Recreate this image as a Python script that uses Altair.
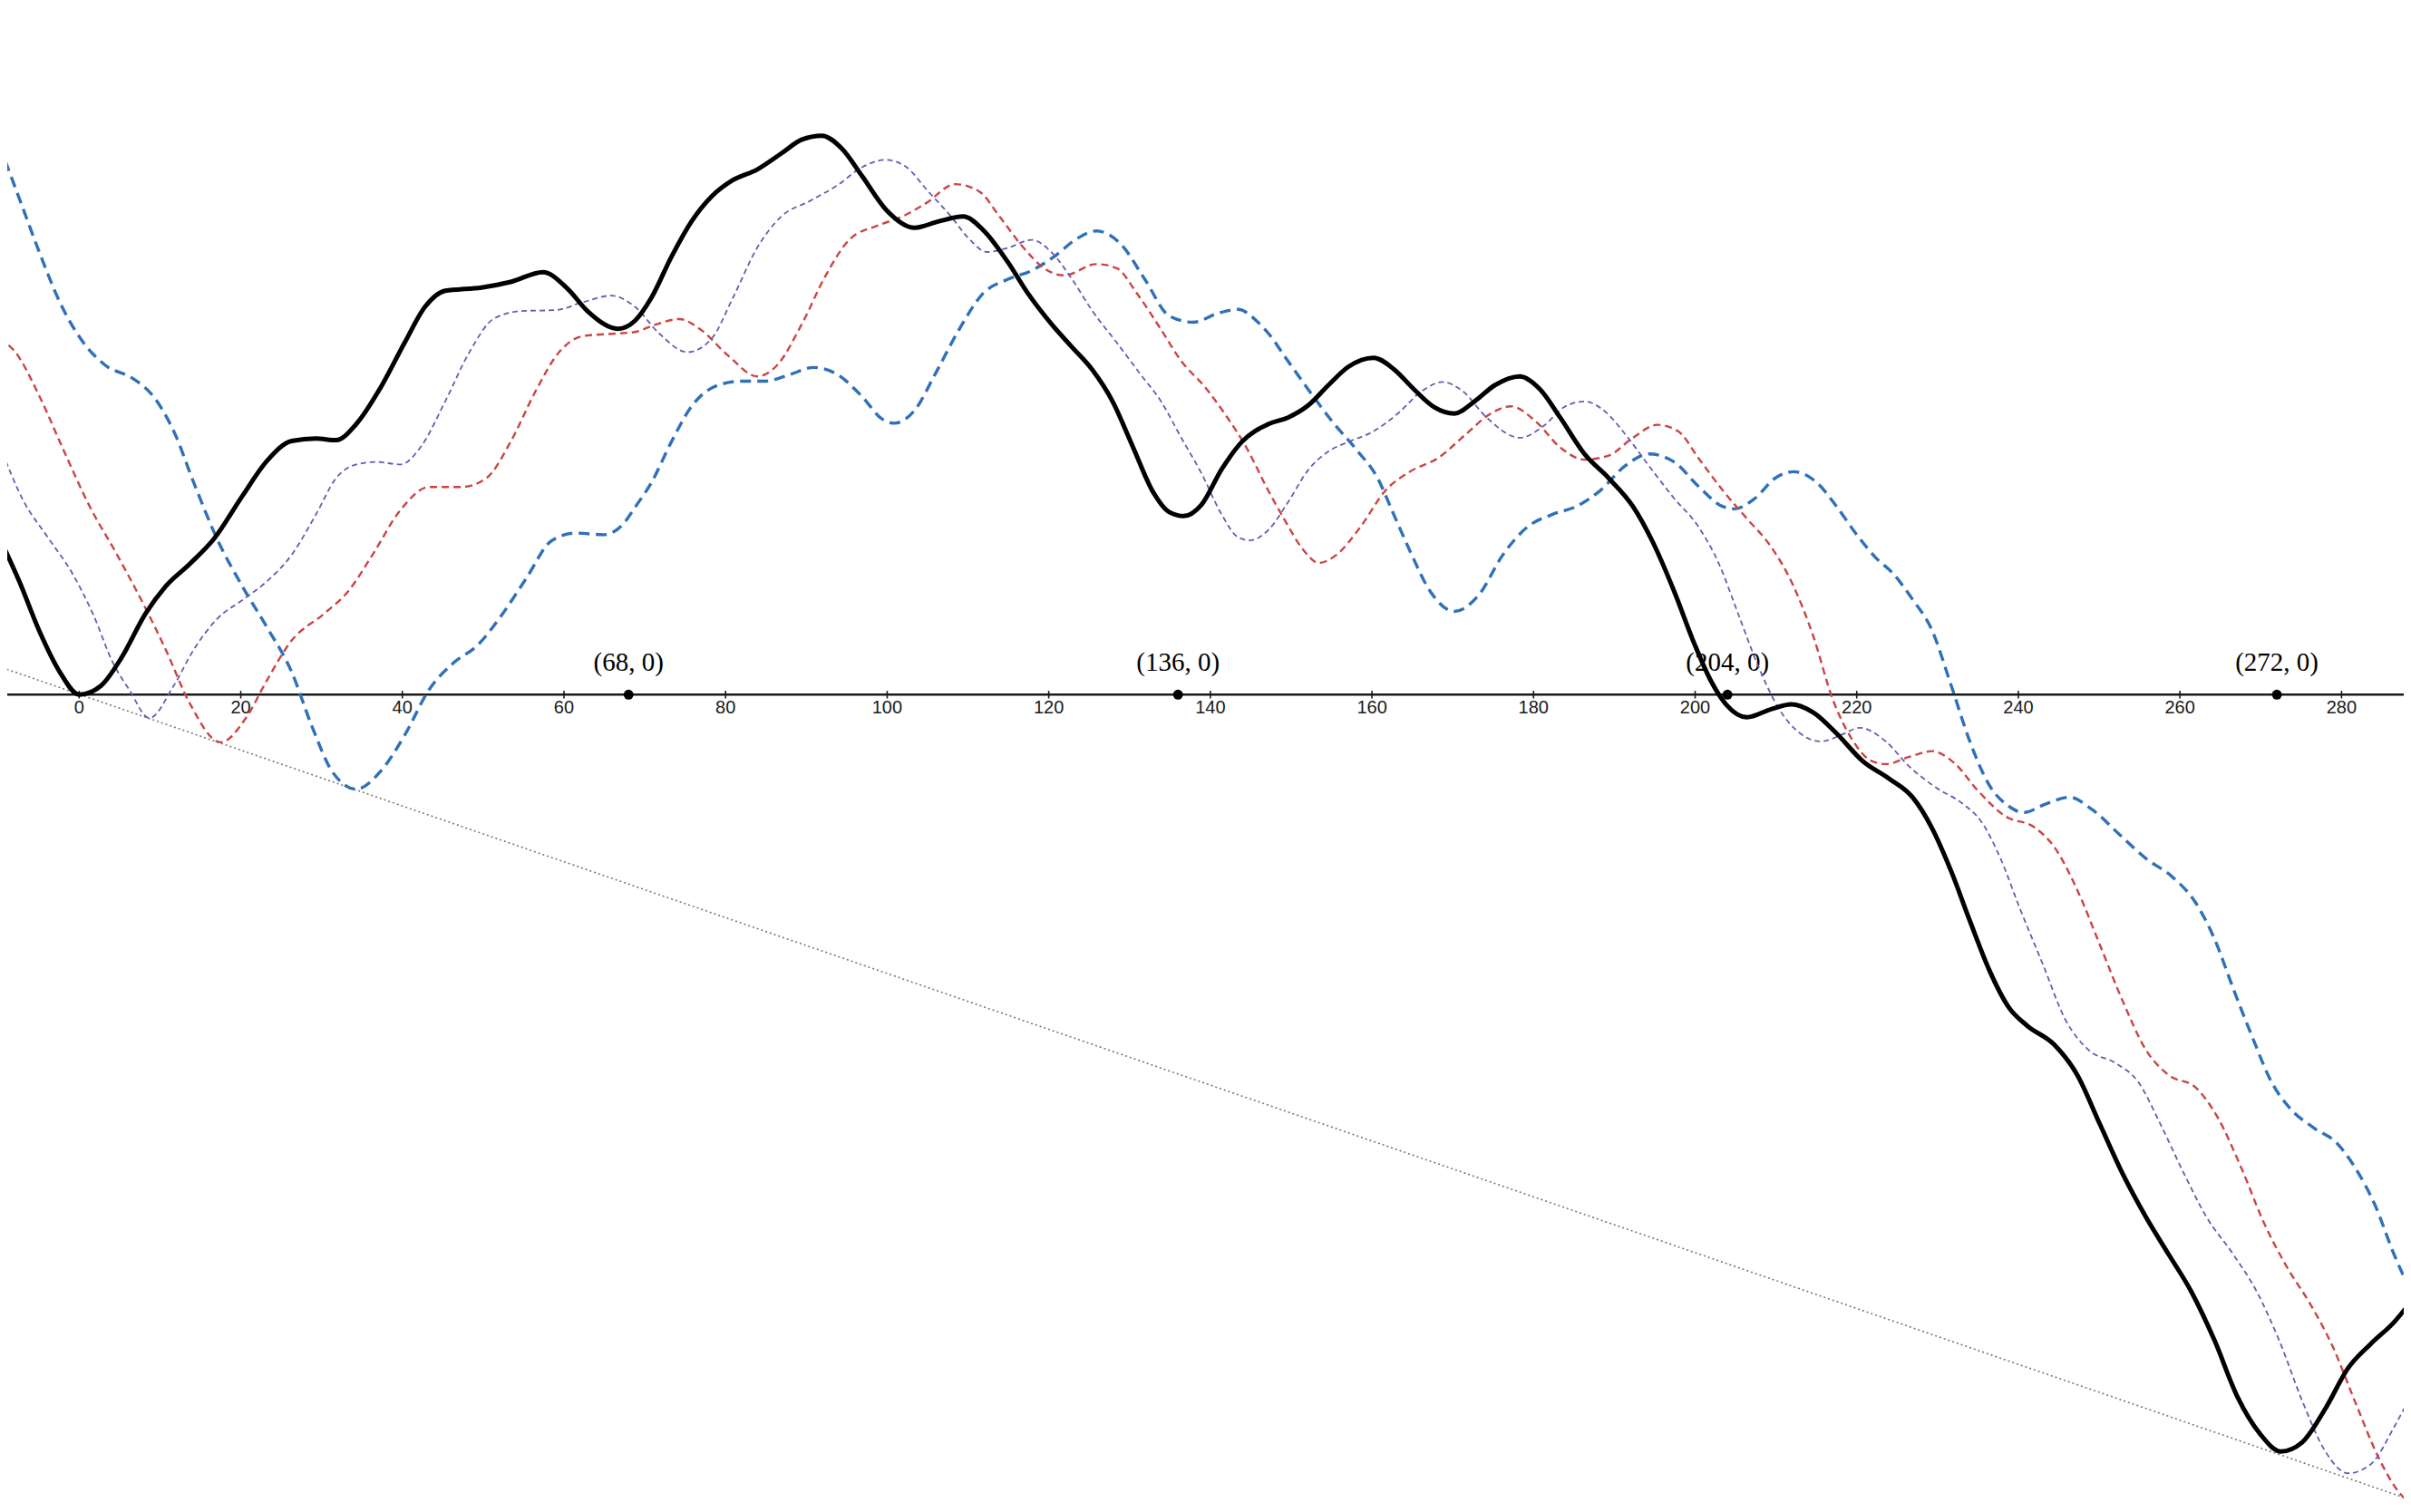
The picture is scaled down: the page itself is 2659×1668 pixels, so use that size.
import altair as alt
import pandas as pd

# ---- data ----
black_x = [-9.9, -7.4, -4.9, -2.4, 0.0, 2.7, 5.2, 8.2, 10.7, 13.7,
           16.7, 20.2, 23.3, 26.3, 29.3, 31.8, 34.3, 37.3, 40.3, 42.8,
           45.3, 49.8, 53.4, 57.4, 60.4, 62.9, 66.7, 68.8, 70.8, 73.3,
           75.8, 78.3, 80.9, 83.9, 86.9, 89.4, 91.9, 94.4, 96.9, 99.9,
           103.4, 106.4, 109.4, 111.9, 114.9, 117.4, 120.4, 122.9, 125.4, 127.9,
           130.4, 132.9, 134.9, 136.7, 138.9, 141.4, 143.9, 147.2, 149.6, 152.1,
           154.6, 157.1, 160.2, 162.7, 165.2, 167.7, 170.2, 172.7, 175.2, 178.3,
           180.8, 183.3, 186.3, 189.3, 192.3, 194.8, 197.4, 199.9, 201.9, 203.9,
           206.4, 209.4, 211.9, 214.6, 217.5, 220.7, 224.0, 226.9, 229.3, 231.7,
           234.0, 236.4, 238.8, 241.1, 244.4, 247.3, 250.1, 252.9, 255.8, 258.6,
           261.4, 264.3, 267.1, 269.9, 272.5, 275.1, 278.0, 280.8, 283.6, 286.5,
           288.7]
black_y = [19.5, 14.0, 7.8, 2.8, 0.0, 1.1, 4.5, 10.0, 13.4, 16.2,
           19.3, 24.6, 29.0, 31.4, 31.7, 31.5, 33.5, 38.0, 43.6, 48.0,
           50.0, 50.4, 51.1, 52.3, 50.3, 47.5, 45.3, 46.3, 49.1, 54.2,
           58.6, 61.7, 63.7, 65.0, 67.0, 68.7, 69.2, 67.6, 64.2, 60.0,
           57.8, 58.6, 59.2, 57.5, 53.6, 49.7, 45.8, 43.0, 40.2, 36.3,
           30.7, 25.1, 22.6, 22.1, 23.5, 27.9, 31.3, 33.5, 34.3, 35.8,
           38.3, 40.6, 41.7, 40.3, 37.8, 35.6, 34.8, 36.3, 38.3, 39.4,
           37.8, 34.3, 29.8, 26.8, 23.3, 18.8, 12.8, 6.3, 1.8, -1.3,
           -2.8, -1.8, -1.2, -2.2, -4.8, -8.2, -10.4, -12.7, -16.5, -21.9,
           -28.0, -34.1, -38.7, -41.0, -43.3, -47.1, -53.2, -59.3, -64.7, -69.3,
           -73.9, -80.0, -86.9, -91.5, -93.7, -92.6, -88.4, -83.4, -80.4, -77.7,
           -75.0]

purple_x = [-9.9, -6.9, -3.9, -0.9, 1.7, 4.2, 6.2, 8.7, 11.7, 14.2,
            17.2, 20.2, 23.2, 26.3, 29.3, 31.8, 34.3, 36.8, 39.8, 42.3,
            45.3, 48.3, 51.4, 54.9, 58.9, 62.4, 65.9, 68.8, 71.8, 75.3,
            78.3, 80.9, 83.9, 86.9, 90.4, 93.9, 96.9, 99.8, 102.4, 104.9,
            107.9, 109.9, 112.4, 114.9, 117.9, 120.4, 122.9, 125.4, 128.4, 131.4,
            133.9, 136.4, 138.9, 141.4, 143.4, 144.9, 147.2, 149.6, 152.1, 154.6,
            157.1, 160.2, 163.2, 166.2, 168.7, 171.2, 174.2, 178.3, 181.3, 183.8,
            186.3, 188.8, 191.3, 194.3, 197.4, 200.4, 202.9, 205.4, 207.9, 210.4,
            213.0, 215.5, 218.5, 220.3, 223.6, 226.5, 229.8, 233.1, 235.4, 237.8,
            240.2, 243.0, 245.8, 248.7, 252.0, 254.8, 257.6, 260.5, 263.3, 266.6,
            269.5, 272.3, 275.2, 278.0, 280.8, 283.6, 286.5, 288.7]
purple_y = [31.0, 24.0, 19.5, 15.1, 10.0, 3.9, 0.6, -2.9, 1.1, 5.6,
            9.5, 11.7, 14.0, 17.3, 22.3, 26.8, 28.5, 28.8, 28.5, 30.7,
            36.3, 42.4, 46.6, 47.5, 47.6, 48.6, 49.4, 48.0, 44.7, 42.4,
            44.1, 49.1, 55.3, 59.2, 61.1, 63.1, 65.3, 66.2, 65.3, 62.5,
            59.2, 56.7, 54.8, 55.3, 56.3, 54.7, 51.4, 47.5, 43.6, 39.6,
            36.3, 31.8, 27.4, 22.3, 19.5, 19.1, 20.4, 23.8, 27.8, 30.1,
            31.3, 32.6, 34.8, 37.6, 38.7, 37.6, 34.3, 31.8, 33.3, 35.6,
            36.3, 35.1, 32.3, 28.3, 24.3, 20.8, 16.3, 9.8, 3.3, -1.8,
            -4.8, -5.8, -4.8, -4.1, -5.8, -8.9, -11.5, -13.5, -15.7, -20.3,
            -26.5, -33.3, -40.2, -44.0, -45.6, -47.9, -53.2, -59.3, -64.7, -69.3,
            -73.9, -80.0, -87.6, -93.7, -96.4, -95.3, -90.7, -86.5]

red_x = [-9.9, -7.9, -4.9, -1.9, 1.2, 4.7, 7.7, 10.7, 13.7, 17.5,
         20.7, 23.2, 26.3, 30.3, 33.3, 36.3, 39.8, 43.3, 47.3, 50.4,
         53.4, 56.4, 59.4, 62.4, 66.4, 68.8, 71.3, 74.3, 76.9, 80.4,
         83.9, 86.4, 89.4, 92.4, 95.4, 98.9, 101.9, 104.9, 108.4, 111.4,
         113.9, 116.9, 119.4, 121.9, 125.9, 128.4, 130.9, 133.9, 136.4, 139.4,
         141.9, 144.4, 147.2, 149.1, 151.6, 153.4, 155.6, 158.6, 161.7, 164.7,
         168.2, 171.7, 174.7, 177.2, 180.3, 183.3, 186.3, 189.3, 192.3, 195.3,
         197.9, 200.4, 203.4, 206.4, 209.4, 212.0, 214.6, 217.0, 219.4, 221.8,
         223.6, 226.5, 229.3, 232.1, 235.0, 238.3, 242.1, 244.4, 247.3, 250.1,
         252.9, 255.8, 258.6, 261.9, 264.7, 267.6, 270.4, 273.2, 276.1, 278.9,
         281.7, 284.6, 287.4, 288.7]
red_y = [44.1, 42.4, 36.9, 30.2, 23.5, 17.3, 11.7, 5.6, -1.1, -5.9,
         -2.8, 1.7, 6.7, 10.0, 12.8, 17.3, 22.9, 25.7, 25.7, 26.8,
         31.3, 37.4, 42.4, 44.4, 44.7, 44.9, 45.8, 46.5, 45.2, 41.9,
         39.4, 40.8, 45.8, 51.9, 56.4, 58.1, 59.2, 60.9, 63.2, 62.3,
         59.2, 55.3, 52.8, 51.9, 53.3, 52.8, 49.7, 45.2, 41.3, 38.0,
         34.6, 30.7, 25.2, 21.8, 17.8, 16.3, 17.3, 20.8, 25.3, 27.6,
         29.3, 32.3, 34.8, 35.7, 33.8, 30.6, 29.1, 29.6, 31.8, 33.4,
         32.6, 29.3, 25.3, 21.8, 18.3, 13.8, 7.3, -0.5, -5.5, -8.2,
         -8.6, -7.7, -7.0, -8.5, -11.9, -15.0, -16.5, -18.8, -24.2, -31.0,
         -37.9, -44.0, -47.1, -48.6, -52.4, -58.6, -65.4, -70.8, -75.4, -80.7,
         -87.6, -94.5, -99.1, -100.2]

blue_x = [-9.9, -7.4, -4.9, -2.4, 0.15, 3.2, 6.7, 9.2, 11.8, 14.2,
          17.2, 20.2, 23.2, 26.3, 28.8, 31.3, 34.3, 37.3, 40.3, 43.3,
          46.3, 49.3, 52.4, 55.4, 58.4, 61.4, 64.9, 67.4, 68.8, 70.8,
          73.3, 75.8, 78.8, 81.9, 84.9, 87.9, 90.9, 93.9, 96.9, 99.4,
          100.9, 103.4, 105.9, 108.9, 111.9, 114.9, 117.9, 120.9, 123.4, 125.9,
          128.9, 131.9, 134.9, 137.9, 140.9, 143.4, 145.9, 147.2, 149.6, 152.1,
          155.1, 158.1, 160.7, 162.7, 164.7, 167.2, 170.2, 173.2, 176.2, 179.3,
          182.3, 185.3, 188.3, 191.3, 194.3, 197.4, 200.4, 203.4, 204.9, 207.4,
          209.9, 212.2, 215.0, 217.5, 220.0, 222.5, 224.3, 226.9, 229.3, 231.7,
          234.0, 236.4, 238.8, 240.6, 243.5, 246.3, 249.1, 252.5, 255.8, 259.1,
          261.9, 264.3, 266.6, 269.0, 271.3, 273.7, 276.5, 279.4, 281.7, 284.1,
          286.5, 288.7]
blue_y = [68.1, 61.4, 54.7, 48.6, 44.1, 40.8, 39.1, 36.9, 32.4, 26.2,
          19.0, 13.4, 8.4, 2.8, -3.9, -9.5, -11.7, -9.5, -5.0, 0.6,
          3.9, 6.1, 10.0, 14.5, 19.0, 20.0, 19.8, 21.2, 23.2, 26.2,
          31.3, 35.7, 38.2, 38.8, 38.8, 39.6, 40.5, 39.6, 36.9, 34.1,
          33.6, 35.2, 39.6, 45.2, 49.7, 51.4, 52.5, 54.4, 56.4, 57.4,
          55.8, 51.4, 46.9, 46.1, 47.2, 47.7, 46.1, 44.7, 41.3, 37.8,
          33.8, 30.3, 26.8, 22.3, 17.8, 12.8, 10.3, 12.3, 17.3, 20.8,
          22.3, 23.3, 25.3, 28.3, 29.8, 28.8, 25.8, 23.3, 23.0, 24.3,
          26.8, 27.6, 26.3, 23.3, 19.8, 16.8, 15.2, 11.8, 8.0, 1.1,
          -5.8, -11.2, -13.8, -14.6, -13.5, -12.7, -14.2, -17.3, -20.3, -22.6,
          -25.7, -30.3, -36.4, -42.5, -47.9, -51.3, -53.6, -55.5, -58.6, -63.1,
          -69.3, -74.2]

line_x = [-10.0, 290.0]
line_y = [3.5, -100.2]

tick_values = [0, 20, 40, 60, 80, 100, 120, 140, 160, 180, 200, 220, 240, 260, 280]
point_x = [68, 136, 204, 272]
point_labels = ["(68, 0)", "(136, 0)", "(204, 0)", "(272, 0)"]

# ---- chart ----
X_DOMAIN = [-8.9, 287.7]
Y_DOMAIN = [-100.3, 85.1]
xs = alt.Scale(domain=X_DOMAIN, nice=False, zero=False)
ys = alt.Scale(domain=Y_DOMAIN, nice=False, zero=False)

XE = alt.X("x:Q", scale=xs, axis=None)
YE = alt.Y("y:Q", scale=ys, axis=None)


def series(xv, yv):
    return pd.DataFrame({"x": xv, "y": yv})


def curve(df, color, width, dash=None):
    kw = dict(color=color, strokeWidth=width, interpolate="monotone", clip=True)
    if dash:
        kw["strokeDash"] = dash
    return alt.Chart(df).mark_line(**kw).encode(x=XE, y=YE)


dotted = alt.Chart(series(line_x, line_y)).mark_line(
    color="#777777", strokeWidth=1.6, strokeDash=[2, 3], clip=True
).encode(x=XE, y=YE)

ticks_df = pd.DataFrame({
    "x": tick_values,
    "y": [0] * len(tick_values),
    "lo": [-0.47] * len(tick_values),
    "hi": [0.47] * len(tick_values),
    "label": [str(v) for v in tick_values],
})

axis_df = pd.DataFrame({"y": [0]})
axis_line = alt.Chart(axis_df).mark_rule(color="#1a1a1a", strokeWidth=2.5).encode(y=YE)

tick_marks = alt.Chart(ticks_df).mark_rule(color="#1a1a1a", strokeWidth=1.6).encode(
    x=XE, y=alt.Y("lo:Q", scale=ys, axis=None), y2="hi:Q"
)

tick_labels = alt.Chart(ticks_df).mark_text(
    font="Liberation Sans", fontSize=20, color="#1a1a1a", baseline="top", dy=5
).encode(x=XE, y=YE, text="label:N")

pts_df = pd.DataFrame({"x": point_x, "y": [0] * len(point_x), "label": point_labels})

points = alt.Chart(pts_df).mark_circle(size=120, color="black", opacity=1).encode(x=XE, y=YE)
point_text = alt.Chart(pts_df).mark_text(
    font="Liberation Serif", fontSize=29, color="black", baseline="middle", dy=-35
).encode(x=XE, y=YE, text="label:N")

chart = alt.layer(
    dotted,
    axis_line,
    tick_marks,
    tick_labels,
    point_text,
    curve(series(blue_x, blue_y), "#2f70b8", 3.4, [12, 7]),
    curve(series(red_x, red_y), "#cb4543", 2.4, [8, 5]),
    curve(series(purple_x, purple_y), "#6a5ab4", 1.8, [6, 4]),
    curve(series(black_x, black_y), "#000000", 5),
    points,
).properties(
    width=2643, height=1652, padding=0, background="white",
    autosize=alt.AutoSizeParams(type="none"),
).configure_view(stroke=None)

chart.save("out.html", embed_options={"renderer": "svg", "actions": False})
